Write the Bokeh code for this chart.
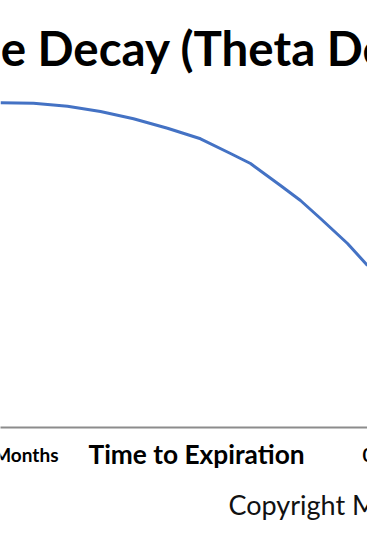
from bokeh.plotting import figure
from bokeh.models import Range1d
from bokeh.core.properties import value
from bokeh.embed import file_html
from bokeh.resources import INLINE

# Data (visible portion of the chart): time position vs. option time value
time_pos = [0, 33, 67, 100, 133, 167, 200, 230, 250, 280, 300, 320, 347, 367]
option_value = [324.7, 324.3, 321.3, 316, 308.7, 299.3, 288.7, 274, 264, 242, 227, 209, 184, 162]
axis_x = [-100, 500]
axis_y = [0, 0]

title_text = "Time Decay (Theta Decay)"
left_label = "6 Months"
axis_title = "Time to Expiration"
right_label = "0 Days"
copyright_text = "Copyright MarketTaker"

FONT = "Lato"

p = figure(width=367, height=545, output_backend="svg", toolbar_location=None,
           x_range=Range1d(0, 367), y_range=Range1d(-118, 427),
           min_border=0, min_border_left=0, min_border_right=0,
           min_border_top=0, min_border_bottom=0)
p.axis.visible = False
p.grid.visible = False
p.outline_line_color = None
p.background_fill_color = "white"
p.border_fill_color = "white"

# x axis line
p.line(axis_x, axis_y, line_color="#8c8c8c", line_width=2)
# decay curve
p.line(time_pos, option_value, line_color="#4472C4", line_width=3)

# title
p.text(x=[-80], y=[427 - 47], text=[title_text], text_font=value(FONT),
       text_font_style="bold", text_font_size=value("47.5px"), text_color="black",
       text_align="left", text_baseline="alphabetic")

p.text(x=[58], y=[427 - 454], text=[left_label], text_font=value(FONT),
       text_font_style="bold", text_font_size=value("19px"), text_color="black",
       text_align="right", text_baseline="alphabetic")
p.text(x=[88], y=[427 - 453], text=[axis_title], text_font=value(FONT),
       text_font_style="bold", text_font_size=value("26.3px"), text_color="black",
       text_align="left", text_baseline="alphabetic")
p.text(x=[362], y=[427 - 454], text=[right_label], text_font=value(FONT),
       text_font_style="bold", text_font_size=value("19px"), text_color="black",
       text_align="left", text_baseline="alphabetic")
p.text(x=[228], y=[427 - 504], text=[copyright_text], text_font=value(FONT),
       text_font_size=value("27px"), text_color="#111111",
       text_align="left", text_baseline="alphabetic")

open("out.html", "w").write(file_html(p, INLINE))
